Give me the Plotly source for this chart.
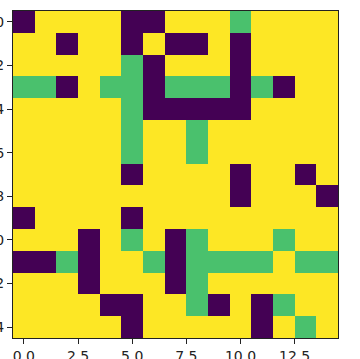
import plotly.graph_objects as go

# Cell codes: 0 = purple, 1 = green, 2 = yellow
rows = list(range(15))
cols = list(range(15))
grid = [
    [0, 2, 2, 2, 2, 0, 0, 2, 2, 2, 1, 2, 2, 2, 2],
    [2, 2, 0, 2, 2, 0, 2, 0, 0, 2, 0, 2, 2, 2, 2],
    [2, 2, 2, 2, 2, 1, 0, 2, 2, 2, 0, 2, 2, 2, 2],
    [1, 1, 0, 2, 1, 1, 0, 1, 1, 1, 0, 1, 0, 2, 2],
    [2, 2, 2, 2, 2, 1, 0, 0, 0, 0, 0, 2, 2, 2, 2],
    [2, 2, 2, 2, 2, 1, 2, 2, 1, 2, 2, 2, 2, 2, 2],
    [2, 2, 2, 2, 2, 1, 2, 2, 1, 2, 2, 2, 2, 2, 2],
    [2, 2, 2, 2, 2, 0, 2, 2, 2, 2, 0, 2, 2, 0, 2],
    [2, 2, 2, 2, 2, 2, 2, 2, 2, 2, 0, 2, 2, 2, 0],
    [0, 2, 2, 2, 2, 0, 2, 2, 2, 2, 2, 2, 2, 2, 2],
    [2, 2, 2, 0, 2, 1, 2, 0, 1, 2, 2, 2, 1, 2, 2],
    [0, 0, 1, 0, 2, 2, 1, 0, 1, 1, 1, 1, 2, 1, 1],
    [2, 2, 2, 0, 2, 2, 2, 0, 1, 2, 2, 2, 2, 2, 2],
    [2, 2, 2, 2, 0, 0, 2, 2, 1, 0, 2, 0, 1, 2, 2],
    [2, 2, 2, 2, 2, 0, 2, 2, 2, 2, 2, 0, 2, 1, 2],
]
x_tickvals = [0, 2.5, 5, 7.5, 10, 12.5]
x_ticktext = ["0.0", "2.5", "5.0", "7.5", "10.0", "12.5"]
y_tickvals = [0, 2, 4, 6, 8, 10, 12, 14]

fig = go.Figure(go.Heatmap(
    z=grid, x=cols, y=rows,
    zmin=0, zmax=2,
    colorscale=[[0, "#440154"], [0.5, "#4ac16d"], [1, "#fde725"]],
    showscale=False, hoverinfo="skip",
))

axis_common = dict(
    showgrid=False, zeroline=False, automargin=False,
    showline=True, linecolor="#222", linewidth=1, mirror=True,
    ticks="outside", ticklen=5, tickwidth=1, tickcolor="#222",
    tickfont=dict(family="DejaVu Sans", size=14, color="#222"),
)
fig.update_xaxes(range=[-0.5, 14.5], tickvals=x_tickvals, ticktext=x_ticktext,
                 **axis_common)
fig.update_yaxes(range=[14.5, -0.5], tickvals=y_tickvals,
                 ticktext=[str(v) for v in y_tickvals], **axis_common)

fig.update_layout(
    width=360, height=359,
    margin=dict(l=13, r=22, t=11, b=21),
    paper_bgcolor="white", plot_bgcolor="white",
)
fig.write_html("out.html")
